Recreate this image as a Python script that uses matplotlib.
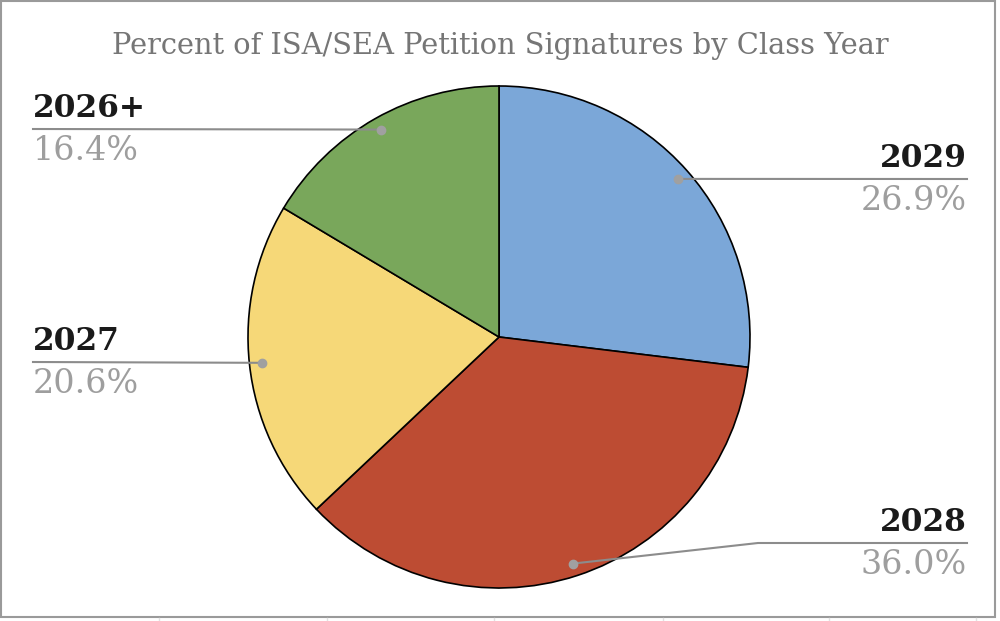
import numpy as np
import matplotlib.pyplot as plt
from matplotlib.patches import Rectangle

years = ["2029", "2028", "2027", "2026+"]
shares = [26.9, 36.0, 20.6, 16.4]
colors = ["#7BA7D8", "#BD4C33", "#F6D878", "#79A75B"]
title = "Percent of ISA/SEA Petition Signatures by Class Year"

W, H = 1000, 621
fig = plt.figure(figsize=(10, 6.21), dpi=100)
ax = fig.add_axes([0, 0, 1, 1])

def y(py):
    return H - py

# frame of the chart
ax.add_patch(Rectangle((1, y(617)), 994, 616, fill=False, ec="#9a9a9a", lw=1.5))
for gx in [159, 327, 494, 663, 829, 976]:
    ax.plot([gx, gx], [0, y(618)], color="#e2e2e2", lw=1)

cx, cy, r = 499, y(337), 251
wedges, _ = ax.pie(shares, colors=colors, startangle=90, counterclock=False,
                   center=(cx, cy), radius=r, frame=True,
                   wedgeprops=dict(edgecolor="black", linewidth=1.2))
ax.set_xlim(0, W)
ax.set_ylim(0, H)
ax.set_aspect("equal")
ax.axis("off")

ax.text(500, y(46), title, ha="center", va="center", fontsize=20.8,
        family="DejaVu Serif", color="#767676")

# label layout: (line end x, line y, elbow x or None, text x, alignment)
layout = {
    "2029": (967, 179, None, 967, "right"),
    "2028": (967, 543, 758, 967, "right"),
    "2027": (33, 362, None, 33, "left"),
    "2026+": (33, 129, None, 33, "left"),
}

for w, yr, s in zip(wedges, years, shares):
    mid = np.deg2rad((w.theta1 + w.theta2) / 2)
    dx = cx + 0.95 * r * np.cos(mid)
    dy = cy + 0.95 * r * np.sin(mid)
    lx, ly, ex, tx, ha = layout[yr]
    if ex is None:
        xs, ys = [dx, lx], [dy, y(ly)]
    else:
        xs, ys = [dx, ex, lx], [dy, y(ly), y(ly)]
    ax.plot(xs, ys, color="#8c8c8c", lw=1.5, zorder=5)
    ax.plot(dx, dy, "o", ms=6, color="#a0a0a0", zorder=6)
    ax.text(tx, y(ly) + 5, yr, ha=ha, va="bottom", fontsize=22.5,
            family="DejaVu Serif", color="#1a1a1a", fontweight="bold")
    ax.text(tx, y(ly) - 6, f"{s:.1f}%", ha=ha, va="top", fontsize=24,
            family="DejaVu Serif", color="#9e9e9e")

fig.savefig("out.png", dpi=100, facecolor="white")
